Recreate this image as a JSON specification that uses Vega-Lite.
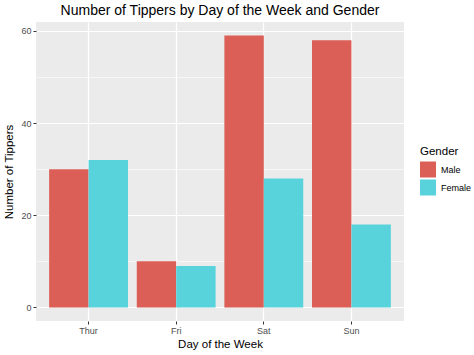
{
  "$schema": "https://vega.github.io/schema/vega-lite/v6.json",
  "width": 368,
  "height": 299,
  "autosize": {"type": "none"},
  "padding": {"left": 36, "top": 22, "right": 70, "bottom": 34},
  "background": "white",
  "title": {"text": "Number of Tippers by Day of the Week and Gender", "fontSize": 14, "font": "Liberation Sans", "fontWeight": "normal", "color": "black", "anchor": "middle", "offset": 4},
  "data": {"values": [
    {"day": "Thur", "gender": "Male", "count": 30},
    {"day": "Thur", "gender": "Female", "count": 32},
    {"day": "Fri", "gender": "Male", "count": 10},
    {"day": "Fri", "gender": "Female", "count": 9},
    {"day": "Sat", "gender": "Male", "count": 59},
    {"day": "Sat", "gender": "Female", "count": 28},
    {"day": "Sun", "gender": "Male", "count": 58},
    {"day": "Sun", "gender": "Female", "count": 18}
  ]},
  "config": {
    "view": {"fill": "#EBEBEB", "stroke": null},
    "font": "Liberation Sans"
  },
  "encoding": {
    "x": {"field": "day", "type": "nominal", "sort": ["Thur", "Fri", "Sat", "Sun"],
      "scale": {"paddingInner": 0.1, "paddingOuter": 0.15},
      "axis": {"title": "Day of the Week", "titleFontSize": 11.5, "titleFontWeight": "normal", "titleColor": "black", "titlePadding": 3,
        "labelAngle": 0, "labelFontSize": 9, "labelColor": "#4D4D4D", "labelPadding": 2,
        "tickColor": "#333333", "tickSize": 3, "tickBand": "center", "bandPosition": 0.5,
        "domain": false, "grid": true, "gridColor": "white", "gridWidth": 1.2}},
    "xOffset": {"field": "gender", "type": "nominal", "sort": ["Male", "Female"]},
    "y": {"field": "count", "type": "quantitative",
      "scale": {"domain": [-2.95, 61.95], "nice": false, "zero": false},
      "axis": {"title": "Number of Tippers", "titleFontSize": 11.5, "titleFontWeight": "normal", "titleColor": "black", "titlePadding": 6,
        "values": [0, 20, 40, 60], "labelFontSize": 9, "labelColor": "#4D4D4D", "labelPadding": 2,
        "tickColor": "#333333", "tickSize": 3, "domain": false, "grid": true, "gridColor": "white", "gridWidth": 1.2}},
    "color": {"field": "gender", "type": "nominal", "sort": ["Male", "Female"],
      "scale": {"domain": ["Male", "Female"], "range": ["#DB5F57", "#58D3DC"]},
      "legend": {"title": "Gender", "orient": "none", "legendX": 384, "legendY": 124,
        "titleFontSize": 11.5, "titleFontWeight": "normal", "titleColor": "black", "titlePadding": 4,
        "labelFontSize": 9, "labelColor": "black", "labelOffset": 5,
        "symbolType": "square", "symbolSize": 256, "symbolStrokeWidth": 0, "symbolOpacity": 1, "rowPadding": 2}}
  },
  "layer": [
    {"mark": {"type": "bar", "opacity": 0},
      "encoding": {"y": {"field": "count", "type": "quantitative",
        "axis": {"values": [10, 30, 50], "orient": "right", "labels": false, "ticks": false, "domain": false, "title": null, "grid": true, "gridColor": "white", "gridWidth": 0.6}}}},
    {"mark": {"type": "bar", "opacity": 1}}
  ],
  "resolve": {"axis": {"y": "independent"}}
}
